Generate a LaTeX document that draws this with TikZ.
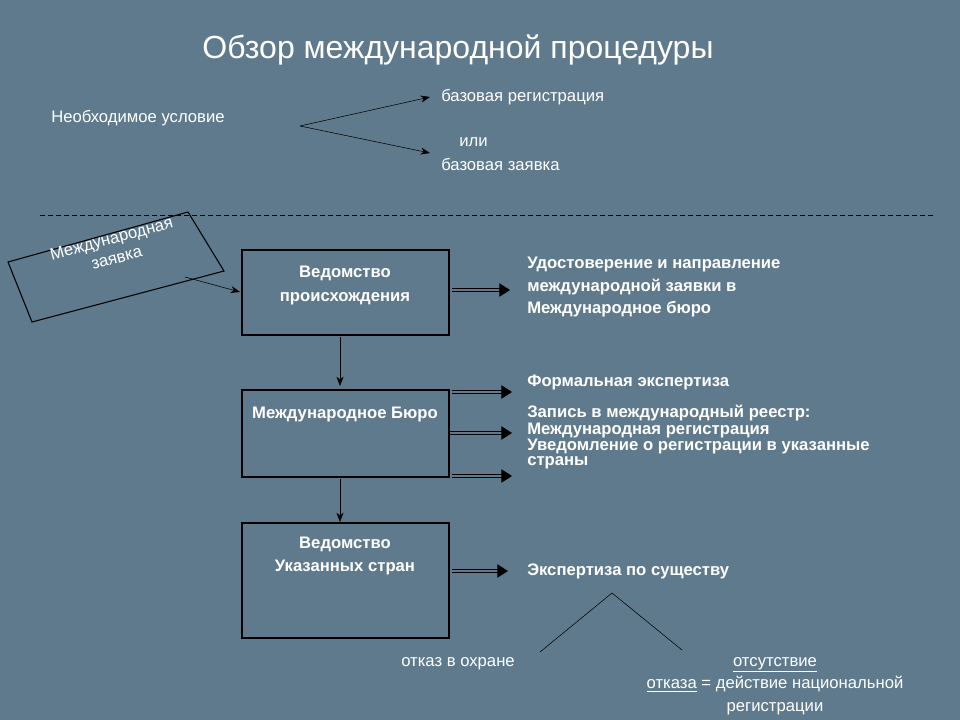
\documentclass[tikz,border=0pt]{standalone}
\usepackage{fontspec}
\setmainfont{Liberation Sans}
\usepackage{tikz}
\usetikzlibrary{arrows.meta}
\definecolor{slate}{HTML}{5F7A8C}

\begin{document}
\begin{tikzpicture}[x=0.75pt,y=0.75pt,yscale=-1,xscale=1,
  box/.style={draw=black,thick},
  dbl/.style={draw=black,double=slate,double distance=1.6pt,thick,-{Triangle[length=8pt,width=10pt]}},
  txt/.style={anchor=west,inner sep=0.75pt,text=white,font=\fontsize{12.5}{13}\selectfont},
  btxt/.style={anchor=west,inner sep=0.75pt,text=white,align=left,font=\bfseries\fontsize{12.5}{13}\selectfont}]
\useasboundingbox (0,0) rectangle (960,720);
\fill[slate] (0,0) rectangle (960,720);

% Title
\node (title) at (458,50) [text=white,font=\fontsize{24}{26}\selectfont] {Обзор международной процедуры};

% Condition
\node (cond) at (50,118) [txt] {Необходимое условие};
\coordinate (fork) at (300,126);
\node (basereg) at (440,97) [txt] {базовая регистрация};
\node (or) at (458,142) [txt] {или};
\node (baseapp) at (440,164) [txt] {базовая заявка};
\draw[-{Stealth[length=7pt]}] (fork) -- (430,97);
\draw[-{Stealth[length=7pt]}] (fork) -- (430,153);

% Separator
\draw[dash pattern=on 4pt off 2pt,black] (40,215) -- (935,215);

% International application
\draw[box] (8,262) -- (188,212) -- (224,271) -- (32,322) -- cycle;
\node (intapp) at (114,248) [rotate=15,text=white,align=center,font=\fontsize{12.5}{15}\selectfont] {Международная\\заявка};

% Offices
\draw[box] (242,250) rectangle (449,335);
\node (origin) at (345,285) [text=white,align=center,font=\bfseries\fontsize{12.5}{18}\selectfont] {Ведомство\\происхождения};
\draw[box] (242,390) rectangle (449,477);
\node (bureau) at (345,414) [text=white,font=\bfseries\fontsize{12.5}{13}\selectfont] {Международное Бюро};
\draw[box] (242,523) rectangle (449,638);
\node (desig) at (345,556) [text=white,align=center,font=\bfseries\fontsize{12.5}{17}\selectfont] {Ведомство\\Указанных стран};

\draw[-{Stealth[length=7pt]}] (185,277) -- (240,292);
\draw[-{Stealth[length=7pt]}] (340,337) -- (340,386);
\draw[-{Stealth[length=7pt]}] (340,479) -- (340,522);

% Results
\node (cert) at (526,287) [btxt,font=\bfseries\fontsize{12.5}{17}\selectfont] {Удостоверение и направление\\международной заявки в\\Международное бюро};
\node (formal) at (526,382) [btxt] {Формальная экспертиза};
\node (record) at (526,437) [btxt,font=\bfseries\fontsize{12.5}{11}\selectfont] {Запись в международный реестр:\\Международная регистрация\\Уведомление о регистрации в указанные\\страны};
\node (subst) at (526,571) [btxt] {Экспертиза по существу};

\draw[dbl] (452,290) -- (510,290);
\draw[dbl] (452,392) -- (512,392);
\draw[dbl] (450,433) -- (512,433);
\draw[dbl] (452,476) -- (512,476);
\draw[dbl] (452,571) -- (508,571);

% Outcomes
\coordinate (apex) at (612,593);
\draw[black] (540,652) -- (apex) -- (682,650);
\node (refuse) at (458,664) [text=white,font=\fontsize{12.5}{13}\selectfont] {отказ в охране};
\node (norefuse) at (775,686) [text=white,align=center,font=\fontsize{12.5}{17}\selectfont] {\underline{отсутствие}\\\underline{отказа} = действие национальной\\регистрации};

\end{tikzpicture}
\end{document}
